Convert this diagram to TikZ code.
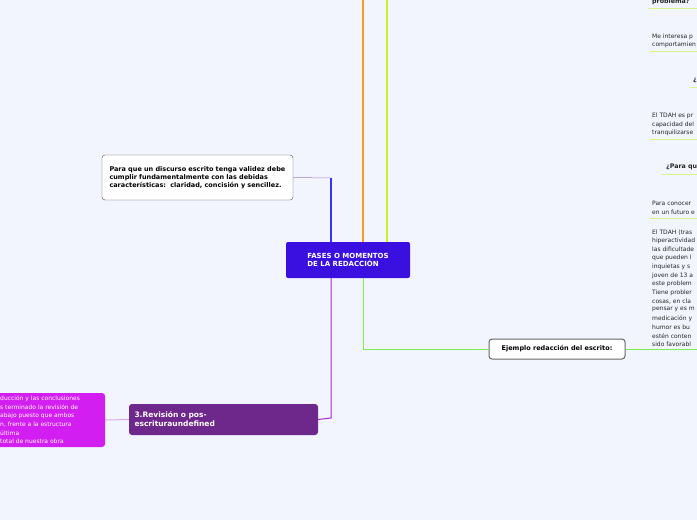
\documentclass[tikz,border=0pt]{standalone}
\usepackage{fontspec}
\setmainfont{DejaVu Sans}
\definecolor{bg}{RGB}{243,245,254}
\definecolor{cen}{RGB}{58,16,224}
\definecolor{rev}{RGB}{110,40,140}
\definecolor{pink}{RGB}{210,30,240}
\definecolor{gl}{RGB}{120,240,80}
\definecolor{pl}{RGB}{170,40,210}
\definecolor{orl}{RGB}{255,150,30}
\definecolor{yl}{RGB}{205,240,30}
\definecolor{ull}{RGB}{215,245,140}
\hyphenpenalty=10000
\begin{document}
\begin{tikzpicture}[x=1pt,y=-1pt,
  t/.style={anchor=west,inner sep=0pt,font=\fontsize{6}{7}\selectfont,text=black!85},
  tb/.style={t,font=\fontsize{6.3}{7}\selectfont\bfseries},
  ul/.style={draw=ull,line width=1pt}]
\fill[bg] (0,0) rectangle (697,520);
\useasboundingbox (0,0) rectangle (697,520);
\clip (0,0) rectangle (697,520);
% center
\node[fill=cen,rounded corners=2pt,minimum width=124pt,minimum height=36pt,align=left,text=white,font=\fontsize{7}{8.5}\selectfont\bfseries] (c) at (348,260) {FASES O MOMENTOS\\DE LA REDACCIÓN};
% upper branches
\coordinate (o) at (363,0); \coordinate (y) at (387,0);
\draw[orl,line width=1.3pt] (363,242) -- (o);
\draw[yl,line width=1.3pt] (387,242) -- (y);
% left text box
\node[draw=black!70,fill=white,rounded corners=3pt,minimum width=191pt,minimum height=45pt,text width=176pt,align=left,font=\fontsize{6.5}{8}\selectfont\bfseries] (p) at (197.5,177.5) {Para que un discurso escrito tenga validez debe cumplir fundamentalmente con las debidas características:\ \ claridad, concisión y sencillez.};
\draw[blue!40!violet!50,line width=0.5pt] (p.east) -- (331,178);
\draw[blue!80,line width=1.3pt] (331,178) -- (331,242);
% Ejemplo
\node[draw=black!60,fill=white,rounded corners=3pt,line width=1pt,minimum width=136pt,minimum height=20pt,font=\fontsize{6.5}{7}\selectfont\bfseries] (e) at (557,349) {Ejemplo redacción del escrito:};
\draw[gl,line width=1pt] (363,278) -- (363,349) -- (e.west);
\draw[gl,line width=1pt] (e.east) -- (697,349);
% revision
\node[fill=rev,rounded corners=3pt,minimum width=189pt,minimum height=31pt,text width=178pt,align=left,text=white,font=\fontsize{7.5}{9}\selectfont\bfseries] (r) at (223.5,419.5) {3.Revisión o pos-\\escrituraundefined};
\draw[pl,line width=1pt] (331,278) -- (331,418) -- (r.east);
\node[fill=pink,rounded corners=3pt,minimum width=115pt,minimum height=54pt] (k) at (47.5,420) {};
\draw[pl!40,line width=1pt] (r.west) -- (k.east);
\foreach \i/\s in {0/{ducción y las conclusiones},1/{s terminado la revisión de},2/{abajo puesto que ambos},3/{n, frente a la estructura},4/{última},5/{ total de nuestra obra}}
  \node[t,text=white] at (0,399+\i*8.5) {\s};
% right side
\node[tb] (a1) at (652,2) {problema?};
\draw[ul] (648,8) -- (697,8);
\node[t] (a2) at (652,37) {Me interesa p};
\node[t] (a3) at (652,44.5) {comportamien};
\draw[ul] (650,51) -- (697,51);
\node[tb] (a4) at (693,80) {¿};
\draw[ul] (690,87) -- (697,87);
\node[t] (a5) at (652,116) {El TDAH es pr};
\node[t] (a6) at (652,124.5) {capacidad del};
\node[t] (a7) at (652,133) {tranquilizarse};
\draw[ul] (650,139) -- (697,139);
\node[tb] (a8) at (666,167) {¿Para qu};
\draw[ul] (662,174) -- (697,174);
\node[t] (a9) at (652,203.5) {Para conocer};
\node[t] (a10) at (652,212) {en un futuro e};
\draw[ul] (650,218) -- (697,218);
\foreach \i/\s in {0/{El TDAH (tras},1/{hiperactividad},2/{las dificultade},3/{que pueden l},4/{inquietas y s},5/{joven de 13 a},6/{este problem},7/{Tiene probler},8/{cosas, en cla},9/{pensar y es m},10/{medicación y},11/{humor es bu},12/{estén conten},13/{sido favorabl}}
  \node[t] at (652,232.5+\i*8.6) {\s};
\end{tikzpicture}
\end{document}
